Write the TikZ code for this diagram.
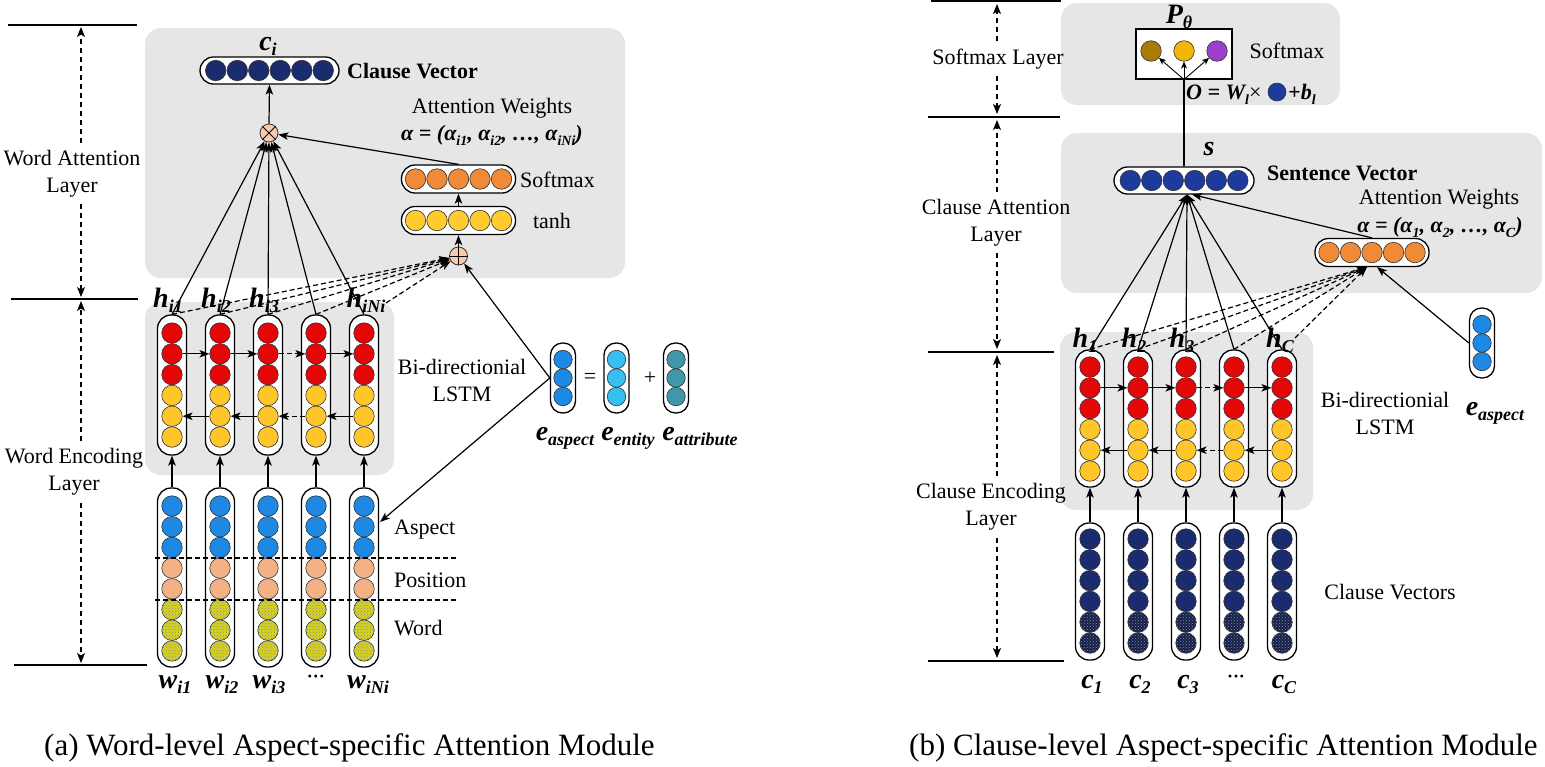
\documentclass[tikz,border=0pt]{standalone}
\usepackage{fontspec}
\setmainfont{Liberation Serif}
\usetikzlibrary{arrows.meta,patterns}
\definecolor{cRed}{HTML}{E30707}
\definecolor{cGold}{HTML}{FFC629}
\definecolor{cBlue}{HTML}{1E88E5}
\definecolor{cPeach}{HTML}{F4B183}
\definecolor{cYG}{HTML}{D6D41E}
\definecolor{cNavy}{HTML}{1B2C6E}
\definecolor{cNavyD}{HTML}{13204F}
\definecolor{cSent}{HTML}{1C3B9C}
\definecolor{cOrange}{HTML}{F08A36}
\definecolor{cTanh}{HTML}{FFCB2E}
\definecolor{cEnt}{HTML}{38BFF2}
\definecolor{cAttr}{HTML}{3F98A9}
\definecolor{cSoftA}{HTML}{A87C05}
\definecolor{cSoftB}{HTML}{F2B705}
\definecolor{cSoftC}{HTML}{9A40CC}
\definecolor{cOp}{HTML}{F8CBAD}
\definecolor{cPanel}{HTML}{E6E6E6}
\newcommand\bi[2]{{\bfseries\itshape #1\raisebox{-0.2em}{\fontsize{18}{18}\selectfont #2}}}
\newcommand\sbt[1]{\raisebox{-0.25em}{\fontsize{14}{14}\selectfont #1}}
\begin{document}
\begin{tikzpicture}[x=1pt,y=-1pt,
  capsl/.style={draw=black, line width=1.3pt, fill=white, rounded corners=13.5pt, inner sep=0pt},
  bead/.style={circle, draw=black!80, line width=0.6pt, minimum size=20.5pt, inner sep=0pt},
  sbead/.style={circle, draw=black!80, line width=0.6pt, minimum size=18.5pt, inner sep=0pt},
  dotty/.style={postaction={pattern=crosshatch dots, pattern color=black!45}},
  arr/.style={line width=1.2pt, -{Stealth[length=10pt,width=7.5pt,inset=2.5pt]}},
  darr/.style={arr, dash pattern=on 5pt off 3pt},
  rulel/.style={line width=1.3pt},
  secl/.style={line width=1.1pt, dash pattern=on 5pt off 3pt},
  spanarr/.style={line width=1.1pt, dash pattern=on 5pt off 4pt, -{Stealth[length=10pt,width=8pt,inset=2.5pt]}},
  panel/.style={fill=cPanel, rounded corners=16pt, inner sep=0pt},
  txt/.style={font=\fontsize{22}{27}\selectfont, inner sep=0pt},
  spantxt/.style={txt, align=center, inner xsep=0pt, inner ysep=7pt},
  lbl/.style={font=\fontsize{28}{30}\selectfont, inner sep=0pt, anchor=base},
  capt/.style={font=\fontsize{31}{36}\selectfont, inner sep=0pt, anchor=base west},
  opnode/.style={circle, draw=black!80, fill=cOp, line width=0.8pt, minimum size=18pt, inner sep=0pt},
]
\useasboundingbox (0,0) rectangle (1545,766);

% ---------------- panels ----------------
\node[panel, minimum width=480pt, minimum height=250pt] (PA) at (385,153) {};
\node[panel, minimum width=249pt, minimum height=173pt] (PB) at (269.5,388.5) {};
\node[panel, minimum width=279pt, minimum height=102pt] (PC) at (1200.5,54) {};
\node[panel, minimum width=481pt, minimum height=160pt] (PD) at (1301.5,213) {};
\node[panel, minimum width=253pt, minimum height=178pt] (PE) at (1186.5,421) {};

% ---------------- left layer markers ----------------
\coordinate (la1) at (8,25);   \coordinate (la2) at (137,25);
\coordinate (lb1) at (11,299); \coordinate (lb2) at (138,299);
\coordinate (lc1) at (14,665); \coordinate (lc2) at (147,665);
\draw[rulel] (la1) -- (la2); \draw[rulel] (lb1) -- (lb2); \draw[rulel] (lc1) -- (lc2);
\coordinate (sa) at (81,27); \coordinate (sb) at (81,297);
\coordinate (sc) at (81,301); \coordinate (sd) at (81,663);
\node[spantxt] (WAL) at (72,173.5) {Word Attention\\Layer};
\node[spantxt] (WEL) at (74,472) {Word Encoding\\Layer};
\draw[spanarr] (WAL.north -| sa) -- (sa);
\draw[spanarr] (WAL.south -| sa) -- (sb);
\draw[spanarr] (WEL.north -| sa) -- (sc);
\draw[spanarr] (WEL.south -| sa) -- (sd);

% ---------------- right layer markers ----------------
\coordinate (ra1) at (931,1);   \coordinate (ra2) at (1061,1);
\coordinate (rb1) at (928,117); \coordinate (rb2) at (1060,117);
\coordinate (rc1) at (928,352); \coordinate (rc2) at (1054,352);
\coordinate (rd1) at (928,661); \coordinate (rd2) at (1064,661);
\draw[rulel] (ra1) -- (ra2); \draw[rulel] (rb1) -- (rb2);
\draw[rulel] (rc1) -- (rc2); \draw[rulel] (rd1) -- (rd2);
\coordinate (ta) at (997,4);   \coordinate (tb) at (997,114);
\coordinate (tc) at (997,120); \coordinate (td) at (997,349);
\coordinate (te) at (997,355); \coordinate (tf) at (997,658);
\node[spantxt, anchor=base] (SML) at (998,64) {Softmax Layer};
\node[spantxt] (CAL) at (996,222.5) {Clause Attention\\Layer};
\node[spantxt] (CEL) at (991,507) {Clause Encoding\\Layer};
\draw[spanarr] (SML.north -| ta) -- (ta);
\draw[spanarr] (SML.south -| ta) -- (tb);
\draw[spanarr] (CAL.north -| ta) -- (tc);
\draw[spanarr] (CAL.south -| ta) -- (td);
\draw[spanarr] (CEL.north -| ta) -- (te);
\draw[spanarr] (CEL.south -| ta) -- (tf);

% ---------------- left: attention part ----------------
\node[capsl, minimum width=139pt, minimum height=27pt] (CV) at (269.5,70.5) {};
\foreach \k in {0,...,5} \node[bead, fill=cNavy] (CV-\k) at ({269.5+21.5*(\k-2.5)},70.5) {};
\node[lbl] (ci) at (268,50) {\bi{c}{i}};
\node[txt, anchor=base west, font=\fontsize{22}{27}\selectfont\bfseries] (CVt) at (347,78) {Clause Vector};
\node[txt, anchor=base] (AWl) at (492,113) {Attention Weights};
\node[txt, anchor=base] (AFl) at (492,140) {\bfseries\itshape α = (α\sbt{i1}, α\sbt{i2}, …, α\sbt{iNi})};
\node[opnode] (mul) at (269,133) {};
\draw[line width=0.8pt] (mul.north east) -- (mul.south west) (mul.north west) -- (mul.south east);
\node[capsl, minimum width=114pt, minimum height=28pt] (SM) at (458.5,179) {};
\foreach \k in {0,...,4} \node[bead, fill=cOrange] (SM-\k) at ({458.5+21.5*(\k-2)},179) {};
\node[txt, anchor=base west] (SMt) at (520,187) {Softmax};
\node[capsl, minimum width=114pt, minimum height=28pt] (TH) at (458.5,220.5) {};
\foreach \k in {0,...,4} \node[bead, fill=cTanh] (TH-\k) at ({458.5+21.5*(\k-2)},220.5) {};
\node[txt, anchor=base] (THt) at (552,228) {tanh};
\node[opnode] (add) at (458.5,256) {};
\draw[line width=0.8pt] (add.north) -- (add.south) (add.west) -- (add.east);
\draw[arr] (add.north) -- (TH.south);
\draw[arr] (TH.north) -- (SM.south);
\draw[arr] (SM.north) -- (mul);
\draw[arr] (mul.north) -- (CV.south);

% ---------------- left: columns ----------------
\foreach \i/\x in {1/172,2/220,3/268,4/316,5/364}{
  \node[capsl, minimum width=29pt, minimum height=140pt] (LH\i) at (\x,385) {};
  \foreach \k/\c in {0/cRed,1/cRed,2/cRed,3/cGold,4/cGold,5/cGold}
    \node[bead, fill=\c] (LH\i-\k) at (\x,{333+20.8*\k}) {};
  \node[capsl, minimum width=29pt, minimum height=179pt] (LX\i) at (\x,577.5) {};
  \foreach \k in {0,1,2} \node[bead, fill=cBlue] (LX\i-\k) at (\x,{506+20.7*\k}) {};
  \foreach \k in {3,4} \node[bead, fill=cPeach] (LX\i-\k) at (\x,{506+20.7*\k}) {};
  \foreach \k in {5,6,7} \node[bead, fill=cYG, dotty] (LX\i-\k) at (\x,{506+20.7*\k}) {};
  \draw[arr] (LX\i.north) -- (LH\i.south);
  \draw[arr] (LH\i.north) -- (mul);
}
\coordinate (LH5d) at (386,303);
\foreach \i in {1,2,3,4} \draw[darr] (LH\i.north) -- (add);
\draw[darr] (LH5d) -- (add);
\foreach \a/\b in {1/2,2/3,4/5}{
  \draw[arr] (LH\a-1.east) -- (LH\b-1.west);
  \draw[arr] (LH\b-4.west) -- (LH\a-4.east);
}
\draw[darr] (LH3-1.east) -- (LH4-1.west);
\draw[darr] (LH4-4.west) -- (LH3-4.east);
% section lines
\coordinate (sl1) at (155,558); \coordinate (sl2) at (457,558);
\coordinate (sl3) at (155,600); \coordinate (sl4) at (457,600);
\draw[secl] (sl1) -- (sl2); \draw[secl] (sl3) -- (sl4);
\node[txt, anchor=base west] (asp) at (394,534) {Aspect};
\node[txt, anchor=base west] (pos) at (394,587) {Position};
\node[txt, anchor=base west] (wrd) at (394,635) {Word};
\node[txt, align=center] (bil) at (462,380.5) {Bi-directionial\\LSTM};
% h and w labels
\node[lbl] (hl1) at (168,307) {\bi{h}{i1}};
\node[lbl] (hl2) at (216,307) {\bi{h}{i2}};
\node[lbl] (hl3) at (264,307) {\bi{h}{i3}};
\node[lbl] (hl5) at (366,307) {\bi{h}{iNi}};
\node[lbl] (wl1) at (175,688) {\bi{w}{i1}};
\node[lbl] (wl2) at (222,688) {\bi{w}{i2}};
\node[lbl] (wl3) at (269,688) {\bi{w}{i3}};
\node[lbl, font=\fontsize{18}{20}\selectfont\bfseries] (wl4) at (316,682) {···};
\node[lbl] (wl5) at (368,688) {\bi{w}{iNi}};

% ---------------- left: aspect embedding ----------------
\node[capsl, minimum width=25pt, minimum height=70pt, rounded corners=12pt] (EA) at (563,378) {};
\foreach \k in {0,1,2} \node[sbead, fill=cBlue] (EA-\k) at (563,{359.5+18.5*\k}) {};
\node[txt] (eq) at (590,378) {=};
\node[capsl, minimum width=25pt, minimum height=70pt, rounded corners=12pt] (EE) at (616.5,378) {};
\foreach \k in {0,1,2} \node[sbead, fill=cEnt] (EE-\k) at (616.5,{359.5+18.5*\k}) {};
\node[txt] (pl) at (650,378) {+};
\node[capsl, minimum width=25pt, minimum height=70pt, rounded corners=12pt] (ET) at (676,378) {};
\foreach \k in {0,1,2} \node[sbead, fill=cAttr] (ET-\k) at (676,{359.5+18.5*\k}) {};
\node[lbl] (lEA) at (565,440) {\bi{e}{aspect}};
\node[lbl] (lEE) at (628,440) {\bi{e}{entity}};
\node[lbl] (lET) at (700,440) {\bi{e}{attribute}};
\coordinate (aspIn) at (380,522);
\draw[arr] (EA.west) -- (add);
\draw[arr] (EA.west) -- (aspIn);

% ---------------- right: softmax layer ----------------
\node[draw=black, line width=1.1pt, fill=white, minimum width=96pt, minimum height=50pt, inner sep=0pt] (PR) at (1184,54) {};
\node[bead, fill=cSoftA] (P-0) at (1151,51) {};
\node[bead, fill=cSoftB] (P-1) at (1184,51) {};
\node[bead, fill=cSoftC] (P-2) at (1217,51) {};
\foreach \k in {0,1,2} \draw[line width=0.9pt, -{Stealth[length=7pt,width=6pt,inset=2pt]}] (PR.south) -- (P-\k);
\node[lbl] (Pt) at (1179,23) {\bi{P}{θ}};
\node[txt, anchor=base] (SMr) at (1287,58) {Softmax};
\node[txt, anchor=base west] (fO) at (1186,99) {\bfseries\itshape O = W\sbt{l}{\mdseries\upshape ×}};
\node[circle, draw=black!80, fill=cSent, line width=0.6pt, minimum width=18pt, inner sep=0pt] (fB) at (1277,92) {};
\node[txt, anchor=base west] (fb) at (1288,99) {\bfseries\itshape +b\sbt{l}};

% ---------------- right: clause attention ----------------
\node[capsl, minimum width=140pt, minimum height=27pt] (SV) at (1184,180.5) {};
\foreach \k in {0,...,5} \node[bead, fill=cSent] (SV-\k) at ({1184+21.5*(\k-2.5)},180.5) {};
\draw[line width=1.2pt] (SV.north) -- (PR.south);
\node[lbl] (sl) at (1209,155) {\bfseries\itshape s};
\node[txt, anchor=base west, font=\fontsize{22}{27}\selectfont\bfseries] (SVt) at (1267,180) {Sentence Vector};
\node[txt, anchor=base] (AWr) at (1439,204) {Attention Weights};
\node[txt, anchor=base] (AFr) at (1440,232) {\bfseries\itshape α = (α\sbt{1}, α\sbt{2}, …, α\sbt{C})};
\node[capsl, minimum width=114pt, minimum height=28pt] (OW) at (1372,252.5) {};
\foreach \k in {0,...,4} \node[bead, fill=cOrange] (OW-\k) at ({1372+21.5*(\k-2)},252.5) {};
\coordinate (svin) at (1187,194.5);
\coordinate (svin2) at (1192,194.5);
\coordinate (owin) at (1367,267);
\coordinate (owin2) at (1377,267);
\draw[arr] (OW.north) -- (svin2);

% ---------------- right: columns ----------------
\foreach \i/\x in {1/1090,2/1138,3/1186,4/1234,5/1282}{
  \node[capsl, minimum width=29pt, minimum height=137pt] (RH\i) at (\x,418.5) {};
  \foreach \k/\c in {0/cRed,1/cRed,2/cRed,3/cGold,4/cGold,5/cGold}
    \node[bead, fill=\c] (RH\i-\k) at (\x,{367+20.8*\k}) {};
  \node[capsl, minimum width=29pt, minimum height=137pt] (RX\i) at (\x,591.5) {};
  \foreach \k in {0,1,2,3} \node[bead, fill=cNavy] (RX\i-\k) at (\x,{539+20.8*\k}) {};
  \foreach \k in {4,5} \node[bead, fill=cNavyD, dotty] (RX\i-\k) at (\x,{539+20.8*\k}) {};
  \draw[arr] (RX\i.north) -- (RH\i.south);
  \draw[arr] (RH\i.north) -- (svin);
}
\coordinate (RH5d) at (1295,338);
\foreach \i in {1,2,3,4} \draw[darr] (RH\i.north) -- (owin);
\draw[darr] (RH5d) -- (owin);
\foreach \a/\b in {1/2,2/3,4/5}{
  \draw[arr] (RH\a-1.east) -- (RH\b-1.west);
  \draw[arr] (RH\b-4.west) -- (RH\a-4.east);
}
\draw[darr] (RH3-1.east) -- (RH4-1.west);
\draw[darr] (RH4-4.west) -- (RH3-4.east);
\node[lbl] (hr1) at (1085,347) {\bi{h}{1}};
\node[lbl] (hr2) at (1134,347) {\bi{h}{2}};
\node[lbl] (hr3) at (1182,347) {\bi{h}{3}};
\node[lbl] (hr5) at (1280,347) {\bi{h}{C}};
\node[lbl] (cr1) at (1092,688) {\bi{c}{1}};
\node[lbl] (cr2) at (1140,688) {\bi{c}{2}};
\node[lbl] (cr3) at (1188,688) {\bi{c}{3}};
\node[lbl, font=\fontsize{18}{20}\selectfont\bfseries] (cr4) at (1236,682) {···};
\node[lbl] (cr5) at (1284,688) {\bi{c}{C}};
\node[txt, align=center] (bir) at (1385,413.5) {Bi-directionial\\LSTM};
\node[txt, anchor=base] (cvs) at (1390,599) {Clause Vectors};
\node[capsl, minimum width=25pt, minimum height=70pt, rounded corners=12pt] (ER) at (1482,343) {};
\foreach \k in {0,1,2} \node[sbead, fill=cBlue] (ER-\k) at (1482,{324.5+18.5*\k}) {};
\node[lbl] (lER) at (1495,415) {\bi{e}{aspect}};
\draw[arr] (ER.west) -- (owin2);

% ---------------- captions ----------------
\node[capt] (capA) at (44,755) {(a) Word-level Aspect-specific Attention Module};
\node[capt] (capB) at (909,755) {(b) Clause-level Aspect-specific Attention Module};
\end{tikzpicture}
\end{document}
